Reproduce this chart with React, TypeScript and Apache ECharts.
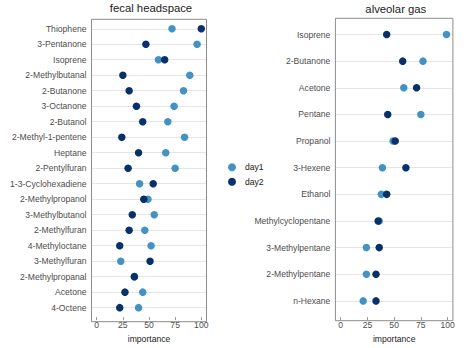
import React, { useEffect, useRef } from "react";
import * as echarts from "echarts";

const leftCats = [
  "Thiophene", "3-Pentanone", "Isoprene", "2-Methylbutanal", "2-Butanone", "3-Octanone",
  "2-Butanol", "2-Methyl-1-pentene", "Heptane", "2-Pentylfuran", "1-3-Cyclohexadiene",
  "2-Methylpropanol", "3-Methylbutanol", "2-Methylfuran", "4-Methyloctane", "3-Methylfuran",
  "2-Methylpropanal", "Acetone", "4-Octene",
];
const leftDay1 = [72, 96, 59, 89, 83, 74, 68, 84, 66, 75, 41, 49, 55, 46, 52, 23, 36, 44, 40];
const leftDay2 = [100, 47, 65, 25, 31, 38, 44, 24, 40, 30, 54, 45, 34, 31, 22, 51, 36, 27, 22];

const rightCats = [
  "Isoprene", "2-Butanone", "Acetone", "Pentane", "Propanol", "3-Hexene", "Ethanol",
  "Methylcyclopentane", "3-Methylpentane", "2-Methylpentane", "n-Hexane",
];
const rightDay1 = [99, 77, 59, 75, 49, 39, 38, 36, 24, 24, 21];
const rightDay2 = [43, 58, 71, 44, 51, 61, 43, 35, 36, 33, 33];

const xTicks = [0, 25, 50, 75, 100];
const titles = ["fecal headspace", "alveolar gas"];
const seriesNames = ["day1", "day2"];
const colors = ["#4292c6", "#08306b"];

const FONT = "Liberation Sans, Arial, sans-serif";
const labelColor = "#4d4d4d";

export default function App() {
  const ref = useRef<HTMLDivElement>(null);
  useEffect(() => {
    if (!ref.current) return;
    document.body.style.margin = "0";
    const chart = echarts.init(ref.current, null, { renderer: "svg" });
    const grids = [
      { left: 91.5, top: 28.75, width: 115, height: 283.5 },
      { left: 335.4, top: 34.5, width: 117.5, height: 270 },
    ];
    const offsets = [9.45, 16.2];
    const cats = [leftCats, rightCats];
    const d1 = [leftDay1, rightDay1];
    const d2 = [leftDay2, rightDay2];

    const xAxis = [0, 1].map((i) => ({
      type: "value",
      gridIndex: i,
      min: -5,
      max: 105,
      offset: offsets[i],
      axisLine: { show: false },
      axisTick: { show: true, length: 3, lineStyle: { color: "#999" }, customValues: xTicks },
      axisLabel: { margin: 3, color: labelColor, fontSize: 8.6, fontFamily: FONT, customValues: xTicks },
      splitLine: { show: false },
      name: "importance",
      nameLocation: "middle",
      nameGap: 14.5,
      nameTextStyle: { color: "#222", fontSize: 8.6, fontFamily: FONT },
    }));
    const yAxis = [0, 1].map((i) => ({
      type: "category",
      gridIndex: i,
      data: cats[i],
      inverse: true,
      boundaryGap: false,
      axisLine: { show: false },
      axisTick: { show: false, interval: 0 },
      axisLabel: { interval: 0, margin: 5, color: labelColor, fontSize: 8.6, fontFamily: FONT },
      splitLine: { show: true, interval: 0, lineStyle: { color: "#e6e6e6", width: 1 } },
    }));
    const series: any[] = [];
    [0, 1].forEach((i) => {
      [d1[i], d2[i]].forEach((vals, k) => {
        series.push({
          type: "scatter",
          name: seriesNames[k],
          xAxisIndex: i,
          yAxisIndex: i,
          symbolSize: 7.5,
          itemStyle: { color: colors[k], opacity: 1 },
          data: vals.map((v, j) => [v, cats[i][j]]),
          z: 2 + k,
        });
      });
    });

    const borders = [
      { x: 91.5, y: 19.3, width: 115, height: 302.4 },
      { x: 335.4, y: 18.3, width: 117.5, height: 302.4 },
    ];
    const titlePos = [
      { x: 151, y: 8.3 },
      { x: 395.8, y: 8.8 },
    ];

    chart.setOption({
      animation: false,
      backgroundColor: "#ffffff",
      grid: grids,
      xAxis,
      yAxis,
      series,
      legend: {
        data: seriesNames,
        orient: "vertical",
        left: 228,
        top: 162.8,
        padding: 0,
        itemWidth: 8,
        itemHeight: 8,
        itemGap: 5.4,
        icon: "circle",
        textStyle: { color: "#222", fontSize: 8.6, fontFamily: FONT, padding: [0, 0, 0, 4] },
      },
      graphic: [
        ...borders.map((b) => ({
          type: "rect",
          shape: b,
          style: { fill: "none", stroke: "#8c8c8c", lineWidth: 1 },
          z: 10,
          silent: true,
        })),
        ...titles.map((t, i) => ({
          type: "text",
          x: titlePos[i].x,
          y: titlePos[i].y,
          style: {
            text: t,
            fill: "#1a1a1a",
            fontSize: 11.3,
            fontFamily: FONT,
            align: "center",
            verticalAlign: "middle",
          },
        })),
      ],
    });
    return () => chart.dispose();
  }, []);
  return <div ref={ref} style={{ width: 474, height: 348 }} />;
}
